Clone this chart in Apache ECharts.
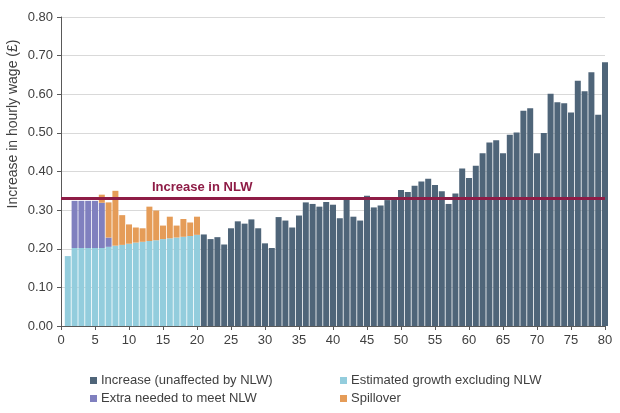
<!DOCTYPE html>
<html>
<head>
<meta charset="utf-8">
<script src="https://cdn.jsdelivr.net/npm/echarts@6/dist/echarts.min.js"></script>
<style>
  html, body { margin: 0; padding: 0; background: #fff; }
  #chart { width: 620px; height: 413px; }
</style>
</head>
<body>
<div id="chart"></div>
<script>
// Hourly wage increase by percentile, split into NLW-affected parts (1-20)
// and the unaffected remainder (21-80).
const GROWTH = [0.181, 0.202, 0.202, 0.202, 0.202, 0.202, 0.205, 0.208, 0.210, 0.213,
                0.216, 0.218, 0.220, 0.222, 0.225, 0.227, 0.229, 0.231, 0.233, 0.236];
const EXTRA = [0, 0.122, 0.122, 0.122, 0.122, 0.117, 0.024, 0, 0, 0,
               0, 0, 0, 0, 0, 0, 0, 0, 0, 0];
const SPILLOVER = [0, 0, 0, 0, 0, 0.021, 0.091, 0.142, 0.077, 0.050,
                   0.039, 0.035, 0.089, 0.077, 0.035, 0.056, 0.031, 0.046, 0.035, 0.047];
const UNAFFECTED = [0.237, 0.225, 0.230, 0.211, 0.253, 0.271, 0.265, 0.276, 0.253, 0.214,
                    0.202, 0.282, 0.273, 0.255, 0.286, 0.320, 0.316, 0.309, 0.321, 0.314,
                    0.279, 0.330, 0.283, 0.273, 0.337, 0.307, 0.312, 0.326, 0.327, 0.352,
                    0.347, 0.363, 0.374, 0.381, 0.365, 0.349, 0.316, 0.343, 0.408, 0.383,
                    0.415, 0.447, 0.475, 0.481, 0.447, 0.495, 0.501, 0.557, 0.564, 0.447,
                    0.500, 0.601, 0.579, 0.577, 0.553, 0.635, 0.608, 0.657, 0.547, 0.683];
const NLW_INCREASE = 0.33;

const N = GROWTH.length + UNAFFECTED.length;
// category 0 is the empty origin so that ticks 0,5,...,80 sit on the categories
const CATS = Array.from({ length: N + 1 }, (_, i) => String(i));
const FONT = '"Liberation Sans", Arial, sans-serif';

// lower three stack over 1..20 only, the unaffected series covers 21..80
const lower = arr => CATS.map((c, i) => (i === 0 ? null : i <= arr.length ? arr[i - 1] : 0));
const upper = CATS.map((c, i) => (i <= GROWTH.length ? null : UNAFFECTED[i - 1 - GROWTH.length]));

const COLORS = {
  unaffected: '#4f6579',
  growth: '#93cddd',
  extra: '#8080bf',
  spill: '#e59c58',
  nlw: '#8e1c46',
};

const bar = (name, data, color) => ({
  name, type: 'bar', stack: 'w', data, barWidth: 6, clip: false,
  itemStyle: { color }, emphasis: { disabled: true },
});

const chart = echarts.init(document.getElementById('chart'), null, { renderer: 'canvas' });
chart.setOption({
  animation: false,
  textStyle: { fontFamily: FONT },
  grid: { left: 61, right: 15, top: 17, bottom: 87, containLabel: false },
  xAxis: {
    type: 'category', data: CATS, boundaryGap: false,
    axisLine: { lineStyle: { color: '#595959', width: 1 } },
    axisTick: { show: true, length: 4, interval: 4, lineStyle: { color: '#595959' } },
    axisLabel: { color: '#404040', fontSize: 13, margin: 8, fontFamily: FONT, interval: 4 },
    splitLine: { show: false },
  },
  yAxis: {
    type: 'value', min: 0, max: 0.8, interval: 0.1,
    axisLine: { show: true, lineStyle: { color: '#595959', width: 1 } },
    axisTick: { show: true, length: 4, lineStyle: { color: '#595959' } },
    axisLabel: { color: '#404040', fontSize: 13, margin: 8, fontFamily: FONT, formatter: v => v.toFixed(2) },
    splitLine: { lineStyle: { color: '#d9d9d9', width: 1 } },
  },
  legend: [
    {
      left: 85, top: 369, orient: 'vertical', itemGap: 5, itemWidth: 7, itemHeight: 7, icon: 'rect',
      textStyle: { color: '#404040', fontSize: 13, fontFamily: FONT, padding: [0, 0, 0, -1] },
      data: ['Increase (unaffected by NLW)', 'Extra needed to meet NLW'],
    },
    {
      left: 335, top: 369, orient: 'vertical', itemGap: 5, itemWidth: 7, itemHeight: 7, icon: 'rect',
      textStyle: { color: '#404040', fontSize: 13, fontFamily: FONT, padding: [0, 0, 0, -1] },
      data: ['Estimated growth excluding NLW', 'Spillover'],
    },
  ],
  graphic: [{
    type: 'text', x: 13, y: 124, rotation: Math.PI / 2,
    style: { text: 'Increase in hourly wage (£)', fill: '#404040', font: '14px ' + FONT,
      textAlign: 'center', textVerticalAlign: 'middle' },
  }],
  series: [
    bar('Estimated growth excluding NLW', lower(GROWTH), COLORS.growth),
    bar('Extra needed to meet NLW', lower(EXTRA), COLORS.extra),
    bar('Spillover', lower(SPILLOVER), COLORS.spill),
    Object.assign(bar('Increase (unaffected by NLW)', upper, COLORS.unaffected), {
      markLine: {
        silent: true, symbol: 'none', animation: false,
        lineStyle: { color: COLORS.nlw, width: 3, type: 'solid' },
        label: { show: true, position: 'insideStartTop', distance: [91, 5], formatter: 'Increase in NLW',
          color: COLORS.nlw, fontWeight: 'bold', fontSize: 13, fontFamily: FONT },
        data: [{ yAxis: NLW_INCREASE }],
      },
    }),
  ],
});
</script>
</body>
</html>
